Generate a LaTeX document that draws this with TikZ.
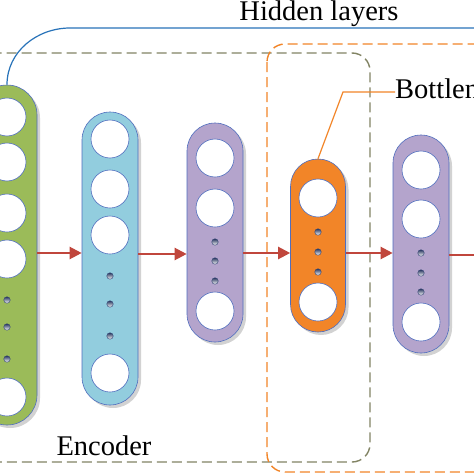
\documentclass[tikz,border=0pt]{standalone}
\usepackage{fontspec}
\setmainfont{Liberation Serif}
\usetikzlibrary{positioning,arrows.meta,shadows}

\definecolor{lgreen}{RGB}{155,187,89}
\definecolor{lblue}{RGB}{146,205,222}
\definecolor{lpurple}{RGB}{180,164,204}
\definecolor{lorange}{RGB}{242,133,40}
\definecolor{edgeblue}{RGB}{80,110,190}
\definecolor{arrred}{RGB}{192,70,60}
\definecolor{olive}{RGB}{130,132,100}
\definecolor{lineblue}{RGB}{40,115,185}

\tikzset{
  layer/.style={draw=edgeblue, line width=0.6pt, rectangle, rounded corners=28pt,
    minimum width=56pt, inner sep=0pt,
    drop shadow={shadow xshift=3pt, shadow yshift=-3pt, fill=gray!35, opacity=1}},
  unit/.style={draw=edgeblue, line width=0.6pt, circle, fill=white, minimum size=38pt, inner sep=0pt},
  dotu/.style={draw=edgeblue!60!black, line width=0.4pt, circle, minimum size=6.5pt, inner sep=0pt,
    top color=edgeblue!50!black, bottom color=white},
  arr/.style={draw=arrred, line width=2.2pt, -{Triangle[length=12pt,width=12pt]}},
  lbl/.style={inner sep=0pt, font=\fontsize{28.5}{32}\selectfont}
}

\begin{document}
\begin{tikzpicture}[x=1pt,y=-1pt]
        \clip (0,0) rectangle (474,474);
        \fill[white] (0,0) rectangle (474,474);
        % dashed boxes
        \draw[olive, line width=1.4pt, dash pattern=on 10pt off 5pt, rounded corners=18pt] (-30,53) rectangle (370,462);
        \draw[lorange, line width=1.4pt, dash pattern=on 10pt off 5pt, rounded corners=18pt] (267,44) rectangle (520,472);

        % layers
        \node (l1) at (7,255) [layer, fill=lgreen, minimum width=60pt, rounded corners=30pt, minimum height=340pt] {};
        \node (l2) at (110,258.5) [layer, fill=lblue, minimum height=293pt] {};
        \node (l3) at (215,232.5) [layer, fill=lpurple, minimum height=219pt] {};
        \node (l4) at (318,245.5) [layer, fill=lorange, minimum width=55pt, rounded corners=27.5pt, minimum height=173pt] {};
        \node (l5) at (421,244) [layer, fill=lpurple, minimum height=218pt] {};

        % units
        \foreach \y in {117,162,213,259,397} \node at (7,\y) [unit] {};
        \foreach \y in {300,327,359} \node at (7,\y) [dotu] {};
        \foreach \y in {139,189,235,373} \node at (110,\y) [unit] {};
        \foreach \y in {276,304,336} \node at (110,\y) [dotu] {};
        \foreach \y in {158,208,311} \node at (215,\y) [unit] {};
        \foreach \y in {242,261,281} \node at (215,\y) [dotu] {};
        \foreach \y in {198,302} \node at (318,\y) [unit] {};
        \foreach \y in {232,252,272} \node at (318,\y) [dotu] {};
        \foreach \y in {170,219,322} \node at (421,\y) [unit] {};
        \foreach \y in {253,273,292} \node at (421,\y) [dotu] {};

        % arrows
        \coordinate (out) at (500,255);
        \draw[arr] (l1.east |- 0,253) -- (l2.west |- 0,253);
        \draw[arr] (l2.east |- 0,254) -- (l3.west |- 0,254);
        \draw[arr] (l3.east |- 0,253) -- (l4.west |- 0,253);
        \draw[arr] (l4.east |- 0,253) -- (l5.west |- 0,253);
        \draw[arr] (l5.east |- out) -- (out);

        % labels
        \node (hidden) at (319,20) [lbl, anchor=base] {Hidden layers};
        \node (bottle) at (395,98) [lbl, anchor=base west] {Bottleneck};
        \node (enc) at (104,455) [lbl, anchor=base] {Encoder};
        \draw[lineblue, line width=1.2pt] (l1.north) to[out=90, in=180] (70,28) -- (480,28);
        \draw[lorange, line width=1.2pt] (bottle.west |- 0,92) -- (343,92) -- (l4.north);
\end{tikzpicture}
\end{document}
